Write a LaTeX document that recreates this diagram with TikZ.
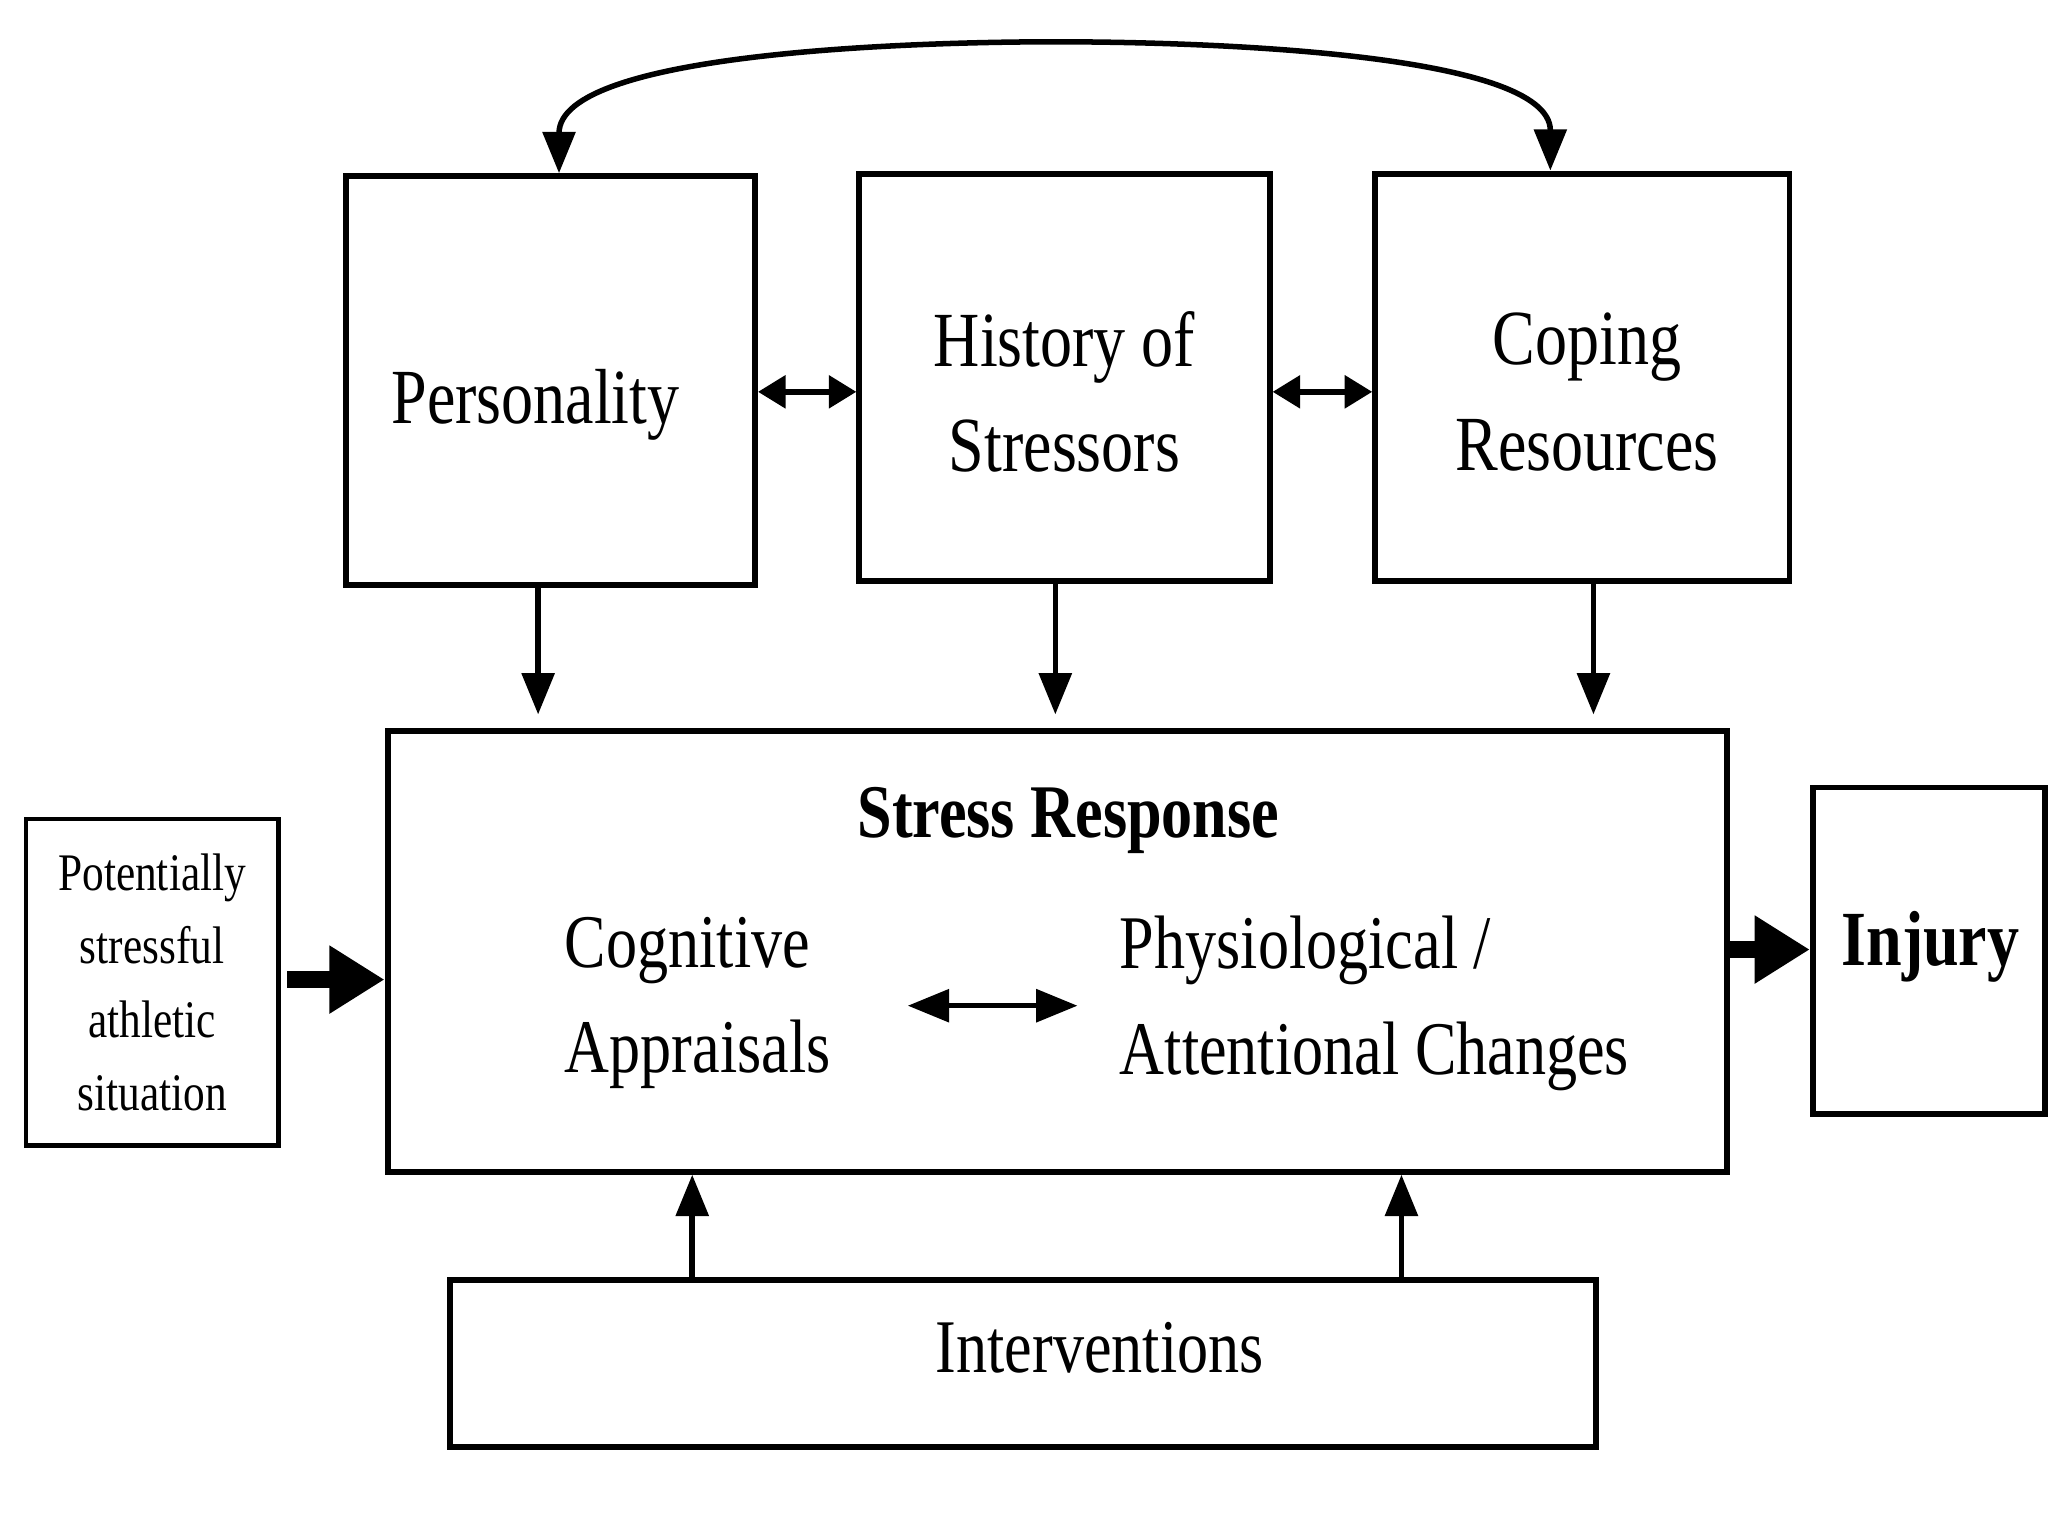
\documentclass[tikz,border=0pt]{standalone}
\usepackage{fontspec}
\setmainfont{Liberation Serif}
\newfontfamily\cond[FakeStretch=0.82]{Liberation Serif}
\usetikzlibrary{arrows.meta}
\begin{document}
\begin{tikzpicture}[x=0.01cm,y=-0.01cm,
  box/.style={draw,line width=1.3pt,inner sep=0pt},
  lbl/.style={font=\cond\fontsize{17}{20}\selectfont,align=center},
  arr/.style={line width=1.2pt,-{Triangle[length=9pt,width=7pt]}},
  darr/.style={line width=1.2pt,{Triangle[length=9pt,width=7pt]}-{Triangle[length=9pt,width=7pt]}},
  sdarr/.style={line width=1.2pt,{Triangle[length=6pt,width=7pt]}-{Triangle[length=6pt,width=7pt]}},
  fat/.style={line width=3.6pt,-{Triangle[length=12pt,width=14pt]}}]
\useasboundingbox (0,0) rectangle (1568,1176);
\node[box,minimum width=3.13cm,minimum height=3.13cm] (pers) at (421.5,291.5) {};
\node[lbl] at (410,310) {Personality};
\node[box,minimum width=3.14cm,minimum height=3.12cm] (hist) at (815,289) {};
\node[lbl,font=\cond\fontsize{17}{23}\selectfont] at (815,300) {History of\\Stressors};
\node[box,minimum width=3.17cm,minimum height=3.12cm] (cop) at (1211.5,289) {};
\node[lbl,font=\cond\fontsize{17}{23}\selectfont] at (1215,300) {Coping\\Resources};
\node[box,minimum width=10.25cm,minimum height=3.37cm] (sr) at (809.5,728.5) {};
\node[font=\cond\bfseries\fontsize{16.5}{18}\selectfont] (srt) at (818,628) {Stress Response};
\node[lbl,align=left,anchor=west,font=\cond\fontsize{16.5}{23}\selectfont] (cog) at (420,768) {Cognitive\\Appraisals};
\node[lbl,align=left,anchor=west,font=\cond\fontsize{16.5}{23}\selectfont] (phy) at (845,768) {Physiological /\\Attentional Changes};
\node[box,line width=1pt,minimum width=1.93cm,minimum height=2.5cm,font=\cond\fontsize{11.5}{16}\selectfont,align=center] (pot) at (116.5,752) {Potentially\\stressful\\athletic\\situation};
\node[box,minimum width=1.78cm,minimum height=2.5cm] (inj) at (1477,728) {};
\node[font=\cond\bfseries\fontsize{17}{18}\selectfont] at (1478,725) {Injury};
\node[box,minimum width=8.77cm,minimum height=1.28cm] (int) at (783.5,1044) {};
\node[lbl,font=\cond\fontsize{16.5}{18}\selectfont] at (842,1032) {Interventions};
\draw[darr] (pers.north -| 428,0) .. controls (428,40) and (700,32) .. (808,32) .. controls (920,32) and (1187,40) .. (cop.north -| 1187,0);
\draw[sdarr] (pers.east |- 0,300) -- (hist.west |- 0,300);
\draw[sdarr] (hist.east |- 0,300) -- (cop.west |- 0,300);
\coordinate (c1) at (412,547); \coordinate (c2) at (808,547); \coordinate (c3) at (1220,547);
\draw[arr] (pers.south -| c1) -- (c1);
\draw[arr] (hist.south -| c2) -- (c2);
\draw[arr] (cop.south -| c3) -- (c3);
\draw[fat] (220,750) -- (sr.west |- 0,750);
\draw[fat] (sr.east |- 0,727) -- (inj.west |- 0,727);
\draw[arr] (int.north -| 530,0) -- (sr.south -| 530,0);
\draw[arr] (int.north -| 1073,0) -- (sr.south -| 1073,0);
\coordinate (d1) at (695,770); \coordinate (d2) at (825,770);
\draw[darr] (d1) -- (d2);
\end{tikzpicture}
\end{document}
